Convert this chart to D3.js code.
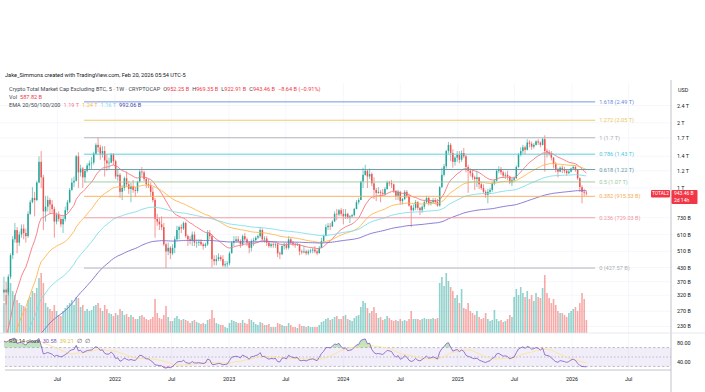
<!DOCTYPE html>
<html>
<head>
<meta charset="utf-8">
<script src="https://cdn.jsdelivr.net/npm/d3@7"></script>
<style>
  html, body { margin: 0; padding: 0; background: #fff; }
  svg { display: block; font-family: Roboto, "Liberation Sans", sans-serif; }
</style>
</head>
<body>
<div class="root"></div>
<script>
const width = 705;
const height = 392;

// TOTAL2 weekly candles (billions USD), first week starts Mon 2021-01-11
const weekStart = "2021-01-11";
const firstOpen = 330;
const closes = [
  // 2021
  340, 330, 390, 490, 580, 640, 560, 610, 650, 620, 600, 760, 860, 900, 880, 1060, 1320, 1120, 780, 820,
  880, 840, 800, 700, 750, 720, 680, 720, 790, 860, 980, 1060, 1080, 1400, 1180, 1230, 1120, 1200, 1270, 1300,
  1310, 1440, 1580, 1540, 1440, 1480, 1340, 1300, 1310, 1420, 1330,
  // 2022
  1130, 1150, 960, 1000, 1110, 1040, 990, 1020, 980, 970, 1070, 1190, 1180, 1100, 1040, 1030, 960, 880, 720, 700,
  680, 660, 550, 510, 530, 500, 530, 580, 640, 660, 650, 690, 600, 580, 570, 610, 560, 560, 565, 550,
  540, 550, 620, 600, 470, 460, 470, 480, 470, 440, 445, 450,
  // 2023
  500, 560, 570, 580, 570, 550, 600, 580, 560, 530, 570, 575, 590, 600, 640, 580, 585, 560, 540, 550,
  545, 550, 500, 495, 540, 545, 530, 580, 560, 550, 545, 550, 510, 505, 510, 500, 510, 515, 520, 510,
  500, 530, 570, 600, 660, 670, 665, 700, 760, 755, 790, 760,
  // 2024
  740, 760, 730, 740, 750, 800, 860, 880, 1070, 1150, 1200, 1130, 1160, 1050, 980, 950, 960, 950, 940, 990,
  1060, 1050, 1040, 970, 920, 960, 870, 890, 960, 920, 830, 790, 810, 860, 810, 790, 820, 860, 900, 850,
  860, 880, 860, 830, 1010, 1150, 1260, 1480, 1580, 1450, 1320, 1380, 1420,
  // 2025
  1350, 1450, 1400, 1250, 1200, 1170, 1120, 1100, 1120, 1040, 1000, 960, 930, 960, 980, 1050, 1080, 1200, 1220, 1180,
  1140, 1150, 1130, 1060, 1090, 1110, 1250, 1420, 1480, 1540, 1500, 1620, 1600, 1550, 1580, 1640, 1620, 1580, 1680, 1480,
  1460, 1440, 1380, 1290, 1220, 1190, 1240, 1220, 1200, 1170, 1190, 1230,
  // 2026
  1250, 1210, 1110, 1010, 960, 952.25, 943.46
];
const highs = [
  390, 370, 400, 500, 600, 690, 660, 630, 680, 680, 650, 780, 880, 1010, 960, 1080, 1400, 1480, 1150, 920,
  920, 900, 880, 820, 770, 780, 740, 740, 820, 880, 1000, 1110, 1130, 1420, 1460, 1280, 1250, 1220, 1300, 1340,
  1390, 1470, 1610, 1704.95, 1580, 1560, 1560, 1420, 1380, 1450, 1450,
  1350, 1230, 1170, 1030, 1130, 1190, 1080, 1060, 1090, 1010, 1080, 1210, 1250, 1200, 1120, 1100, 1060, 1010, 900, 760,
  730, 740, 690, 560, 560, 540, 550, 600, 670, 670, 680, 700, 700, 610, 600, 630, 630, 580, 580, 580,
  560, 560, 640, 640, 610, 490, 490, 500, 490, 490, 460, 460,
  510, 570, 600, 600, 600, 580, 610, 620, 590, 570, 580, 590, 600, 610, 660, 650, 600, 600, 570, 560,
  560, 560, 560, 510, 550, 560, 560, 600, 590, 570, 560, 560, 550, 520, 540, 520, 520, 525, 530, 540,
  520, 540, 590, 610, 680, 690, 690, 710, 780, 800, 800, 810,
  800, 800, 770, 750, 760, 810, 880, 900, 1080, 1240, 1280, 1210, 1230, 1180, 1120, 1000, 1010, 980, 990, 1010,
  1080, 1080, 1090, 1050, 980, 980, 970, 900, 980, 980, 930, 830, 840, 880, 870, 820, 830, 880, 920, 910,
  880, 900, 900, 890, 1020, 1240, 1290, 1500, 1630, 1610, 1510, 1400, 1480,
  1480, 1490, 1530, 1420, 1280, 1230, 1220, 1140, 1200, 1120, 1060, 1040, 980, 990, 1000, 1070, 1100, 1220, 1260, 1250,
  1200, 1180, 1200, 1140, 1110, 1130, 1270, 1450, 1540, 1580, 1570, 1680, 1660, 1640, 1610, 1660, 1680, 1640, 1700, 1750,
  1520, 1500, 1480, 1390, 1320, 1240, 1260, 1270, 1250, 1220, 1210, 1240,
  1280, 1270, 1220, 1120, 1030, 990, 969.35
];
const lows = [
  300, 290, 320, 380, 470, 560, 500, 540, 590, 580, 560, 590, 750, 850, 740, 870, 1050, 1000, 640, 700,
  780, 760, 770, 590, 680, 700, 660, 620, 700, 770, 850, 970, 1010, 1070, 1000, 1130, 1000, 1060, 1180, 1210,
  1220, 1280, 1430, 1460, 1350, 1380, 1130, 1200, 1220, 1300, 1280,
  1100, 1080, 900, 880, 970, 1010, 940, 860, 950, 910, 950, 1060, 1140, 1070, 1000, 1000, 920, 860, 590, 670,
  640, 640, 540, 427.57, 490, 470, 490, 500, 570, 580, 620, 640, 590, 540, 550, 540, 540, 530, 540, 540,
  520, 530, 540, 580, 430, 440, 440, 460, 460, 432, 430, 430,
  440, 500, 540, 560, 560, 530, 540, 570, 540, 500, 510, 540, 560, 580, 590, 570, 560, 540, 530, 530,
  530, 530, 480, 470, 490, 520, 520, 520, 550, 540, 530, 540, 490, 495, 500, 490, 490, 500, 500, 500,
  490, 500, 530, 560, 600, 640, 640, 660, 700, 710, 740, 740,
  680, 720, 720, 690, 730, 740, 800, 840, 880, 1000, 1140, 1000, 1100, 1020, 890, 870, 940, 860, 920, 920,
  980, 1020, 1000, 950, 880, 880, 840, 840, 880, 900, 820, 660, 780, 790, 790, 750, 770, 800, 850, 830,
  830, 850, 840, 820, 820, 1000, 1130, 1230, 1440, 1330, 1240, 1270, 1320,
  1300, 1320, 1370, 1180, 950, 1130, 1090, 980, 1010, 990, 980, 940, 900, 850, 940, 960, 1030, 1070, 1170, 1150,
  1110, 1100, 1090, 1040, 1020, 1070, 1100, 1240, 1400, 1440, 1430, 1490, 1540, 1500, 1520, 1570, 1580, 1540, 1570, 1190,
  1380, 1410, 1340, 1230, 1180, 1120, 1180, 1170, 1170, 1140, 1160, 1180,
  1220, 1190, 1090, 960, 850, 920, 922.91
];
const volumes = [
  1350, 1710, 2025, 2250, 1890, 1710, 1485, 1350, 1260, 1215, 1125, 1485, 1620, 1890, 1800, 2025, 2475, 2700, 2250, 1350,
  1170, 1080, 990, 1260, 990, 810, 765, 990, 1125, 1260, 1350, 1485, 1260, 1620, 1575, 1170, 1260, 990, 1080, 990,
  1035, 1215, 1260, 1350, 1125, 990, 1260, 1080, 900, 855, 765,
  900, 810, 1080, 990, 810, 855, 720, 810, 720, 630, 630, 765, 810, 720, 630, 585, 630, 720, 1530, 900,
  675, 630, 810, 1215, 720, 540, 540, 675, 765, 630, 585, 630, 585, 540, 450, 540, 585, 495, 450, 405,
  450, 405, 585, 630, 1035, 675, 450, 405, 360, 360, 270, 225,
  450, 585, 540, 495, 450, 450, 585, 450, 405, 630, 585, 495, 405, 360, 495, 450, 360, 360, 405, 270,
  270, 270, 450, 405, 360, 315, 315, 450, 360, 270, 270, 225, 405, 315, 315, 270, 315, 270, 270, 270,
  270, 360, 495, 540, 630, 675, 585, 630, 720, 765, 630, 630,
  765, 810, 630, 585, 540, 675, 765, 810, 1170, 1440, 1350, 1125, 900, 990, 1170, 900, 675, 720, 585, 630,
  765, 675, 585, 540, 585, 540, 630, 540, 585, 540, 630, 990, 630, 630, 630, 585, 630, 675, 630, 630,
  630, 675, 630, 675, 2250, 2520, 2115, 2700, 2340, 2070, 1890, 1575, 1710,
  1350, 1980, 1125, 1080, 1350, 990, 900, 810, 990, 720, 630, 675, 900, 630, 540, 585, 1035, 630, 540, 585,
  495, 540, 630, 810, 720, 1620, 1980, 1710, 2070, 1800, 1620, 1890, 1530, 1710, 1440, 1800, 1620, 1575, 2025, 2610,
  1800, 1575, 1350, 1530, 1260, 990, 900, 900, 810, 720, 900, 990,
  1080, 1170, 990, 1350, 1800, 1530, 587.82
];

// indicator seeds: values just before the first visible week
const emaLengths = [20, 50, 100, 200];
const emaSeeds = [180, 140, 125, 115];
const emaColors = ["#f4777f", "#ffb74d", "#80deea", "#7e6fd0"];
const rsiLength = 14;
const rsiSeedGain = 30;
const rsiSeedLoss = 6;

// axes
const priceTicks = [2400, 2000, 1700, 1400, 1200, 1000, 730, 610, 510, 430, 370, 320, 270, 230];
const priceTickLabels = ["2.4 T", "2 T", "1.7 T", "1.4 T", "1.2 T", "1 T", "730 B", "610 B", "510 B", "430 B", "370 B", "320 B", "270 B", "230 B"];
const timeTicks = ["2021-07-01", "2022-01-01", "2022-07-01", "2023-01-01", "2023-07-01", "2024-01-01", "2024-07-01", "2025-01-01", "2025-07-01", "2026-01-01", "2026-07-01"];
const timeTickLabels = ["Jul", "2022", "Jul", "2023", "Jul", "2024", "Jul", "2025", "Jul", "2026", "Jul"];
const rsiTicks = [80, 40];
const rsiBands = [70, 50, 30];

// fibonacci retracement drawing
const fibLow = 427.57;
const fibHigh = 1704.95;
const fibFrom = "2021-09-24";
const fibTo = "2026-03-16";
const fibLevels = [1.618, 1.272, 1, 0.786, 0.618, 0.5, 0.382, 0.236, 0];
const fibLabels = ["1.618 (2.49 T)", "1.272 (2.05 T)", "1 (1.7 T)", "0.786 (1.43 T)", "0.618 (1.22 T)", "0.5 (1.07 T)", "0.382 (915.53 B)", "0.236 (729.03 B)", "0 (427.57 B)"];
const fibColors = ["#6a8ae0", "#ebc55c", "#abaeb6", "#4ccada", "#5c9aa2", "#98c99a", "#f5ac55", "#f0959d", "#abaeb6"];

const parse = d3.utcParse("%Y-%m-%d");
const start = parse(weekStart);
const dates = closes.map((c, i) => d3.utcWeek.offset(start, i));
const opens = closes.map((c, i) => (i === 0 ? firstOpen : closes[i - 1]));

const svg = d3
  .select("div.root")
  .append("svg")
  .attr("width", width)
  .attr("height", height);

const axisX = 671;
const paneTop = 83;
const paneBottom = 333;
const rsiBottom = 369;

const x = d3
  .scaleUtc()
  .domain([parse("2022-01-01"), parse("2026-01-01")])
  .range([115, 572]);
const y = d3.scaleLog().domain([214.6, 3048]).range([paneBottom, paneTop]);
const yVol = d3.scaleLinear().domain([0, d3.max(volumes)]).range([paneBottom, paneBottom - 60]);
const yRsi = d3.scaleLinear().domain([24.5, 101]).range([rsiBottom, paneBottom]);

svg.append("defs").append("clipPath").attr("id", "main")
  .append("rect").attr("x", 0).attr("y", paneTop).attr("width", axisX).attr("height", paneBottom - paneTop);
svg.select("defs").append("clipPath").attr("id", "rsi")
  .append("rect").attr("x", 0).attr("y", paneBottom).attr("width", axisX).attr("height", rsiBottom - paneBottom);

// grid
const grid = svg.append("g").attr("stroke", "#f0f3fa").attr("stroke-width", 0.7);
grid.selectAll("line.h").data(priceTicks).enter().append("line")
  .attr("x1", 0).attr("x2", axisX).attr("y1", d => y(d)).attr("y2", d => y(d));
grid.selectAll("line.v").data(timeTicks).enter().append("line")
  .attr("x1", d => x(parse(d))).attr("x2", d => x(parse(d)))
  .attr("y1", paneTop).attr("y2", rsiBottom);

const main = svg.append("g").attr("clip-path", "url(#main)");

// volume
const up = i => closes[i] >= opens[i];
main.append("g").selectAll("rect").data(volumes).enter().append("rect")
  .attr("x", (d, i) => x(dates[i]) - 0.8)
  .attr("width", 1.6)
  .attr("y", d => yVol(d))
  .attr("height", d => paneBottom - yVol(d))
  .attr("fill", (d, i) => (up(i) ? "rgba(38,166,154,0.5)" : "rgba(239,83,80,0.5)"));

// fibonacci
const fibPrice = l => fibLow + l * (fibHigh - fibLow);
const fib = svg.append("g");
fib.selectAll("line").data(fibLevels).enter().append("line")
  .attr("x1", x(parse(fibFrom))).attr("x2", x(parse(fibTo)))
  .attr("y1", d => y(fibPrice(d))).attr("y2", d => y(fibPrice(d)))
  .attr("stroke", (d, i) => fibColors[i]).attr("stroke-width", 0.9);
fib.selectAll("text").data(fibLevels).enter().append("text")
  .attr("x", x(parse(fibTo)) + 4).attr("y", d => y(fibPrice(d)) + 2)
  .attr("font-size", 5.6).attr("fill", (d, i) => fibColors[i])
  .text((d, i) => fibLabels[i]);

// candles
const candles = main.append("g");
candles.selectAll("line").data(closes).enter().append("line")
  .attr("x1", (d, i) => x(dates[i])).attr("x2", (d, i) => x(dates[i]))
  .attr("y1", (d, i) => y(highs[i])).attr("y2", (d, i) => y(lows[i]))
  .attr("stroke", (d, i) => (up(i) ? "#26a69a" : "#ef5350")).attr("stroke-width", 0.6);
candles.selectAll("rect").data(closes).enter().append("rect")
  .attr("x", (d, i) => x(dates[i]) - 0.75).attr("width", 1.5)
  .attr("y", (d, i) => y(Math.max(d, opens[i])))
  .attr("height", (d, i) => Math.max(0.6, Math.abs(y(d) - y(opens[i]))))
  .attr("fill", (d, i) => (up(i) ? "#26a69a" : "#ef5350"));

// EMAs
const emaSeries = emaLengths.map((len, k) => {
  const a = 2 / (len + 1);
  let e = emaSeeds[k];
  return closes.map(c => (e = e + a * (c - e)));
});
const line = d3.line().x((d, i) => x(dates[i])).y(d => y(d));
main.append("g").selectAll("path").data(emaSeries).enter().append("path")
  .attr("d", line).attr("fill", "none")
  .attr("stroke", (d, k) => emaColors[k]).attr("stroke-width", 0.9);

// RSI
let ag = rsiSeedGain;
let al = rsiSeedLoss;
const rsi = closes.map((c, i) => {
  const ch = c - opens[i];
  ag = (ag * (rsiLength - 1) + Math.max(ch, 0)) / rsiLength;
  al = (al * (rsiLength - 1) + Math.max(-ch, 0)) / rsiLength;
  return 100 - 100 / (1 + ag / al);
});
const rsiMa = rsi.map((v, i) => d3.mean(rsi.slice(Math.max(0, i - 13), i + 1)));

const rp = svg.append("g").attr("clip-path", "url(#rsi)");
rp.append("rect").attr("x", 5).attr("width", axisX - 5)
  .attr("y", yRsi(70)).attr("height", yRsi(30) - yRsi(70))
  .attr("fill", "rgba(126,87,194,0.1)");
rp.selectAll("line.band").data(rsiBands).enter().append("line")
  .attr("x1", 5).attr("x2", axisX).attr("y1", d => yRsi(d)).attr("y2", d => yRsi(d))
  .attr("stroke", "#9598a1").attr("stroke-width", 0.6)
  .attr("stroke-dasharray", d => (d === 50 ? "1.5,2" : "2.5,2"));
rp.append("path").datum(rsi)
  .attr("d", d3.area().x((d, i) => x(dates[i])).y0(yRsi(70)).y1(d => yRsi(Math.max(d, 70))))
  .attr("fill", "rgba(76,175,80,0.35)");
rp.append("path").datum(rsi)
  .attr("d", d3.area().x((d, i) => x(dates[i])).y0(yRsi(30)).y1(d => yRsi(Math.min(d, 30))))
  .attr("fill", "rgba(242,54,69,0.3)");
rp.append("path").datum(rsiMa)
  .attr("d", d3.line().x((d, i) => x(dates[i])).y(d => yRsi(d)))
  .attr("fill", "none").attr("stroke", "#fbe38a").attr("stroke-width", 0.8);
rp.append("path").datum(rsi)
  .attr("d", d3.line().x((d, i) => x(dates[i])).y(d => yRsi(d)))
  .attr("fill", "none").attr("stroke", "#7e57c2").attr("stroke-width", 0.8);

// frame lines
svg.append("line").attr("x1", axisX).attr("x2", axisX).attr("y1", paneTop - 3).attr("y2", height)
  .attr("stroke", "#b2b5be").attr("stroke-width", 0.8);
svg.append("line").attr("x1", 0).attr("x2", width).attr("y1", paneBottom).attr("y2", paneBottom)
  .attr("stroke", "#e0e3eb").attr("stroke-width", 0.8);
svg.append("line").attr("x1", 5).attr("x2", axisX).attr("y1", rsiBottom + 1).attr("y2", rsiBottom + 1)
  .attr("stroke", "#b2b5be").attr("stroke-width", 0.8);

// price axis
const axisText = svg.append("g").attr("font-size", 5.4).attr("fill", "#131722");
axisText.append("text").attr("x", 678).attr("y", 92).text("USD");
axisText.selectAll("text.p").data(priceTicks).enter().append("text")
  .attr("x", 677).attr("y", d => y(d) + 2).text((d, i) => priceTickLabels[i]);
axisText.selectAll("text.r").data(rsiTicks).enter().append("text")
  .attr("x", 677).attr("y", d => yRsi(d) + 2).text(d => d.toFixed(2));
axisText.selectAll("text.t").data(timeTicks).enter().append("text")
  .attr("x", d => x(parse(d))).attr("y", 380.5).attr("text-anchor", "middle")
  .text((d, i) => timeTickLabels[i]);

// last price label
const last = closes.length - 1;
const ly = y(closes[last]);
svg.append("rect").attr("x", 651).attr("y", ly - 3.5).attr("width", 19).attr("height", 7.5).attr("fill", "#f23645").attr("rx", 1);
svg.append("text").attr("x", 660.5).attr("y", ly + 1.8).attr("text-anchor", "middle")
  .attr("font-size", 4.8).attr("fill", "#fff").text("TOTAL2");
svg.append("rect").attr("x", 671.5).attr("y", ly - 3.5).attr("width", 26).attr("height", 14).attr("fill", "#f23645").attr("rx", 1);
svg.append("text").attr("x", 674).attr("y", ly + 1.8).attr("font-size", 5).attr("fill", "#fff").text("943.46 B");
svg.append("text").attr("x", 674).attr("y", ly + 8.2).attr("font-size", 5).attr("fill", "#fff").text("2d 14h");

// legend
const legend = svg.append("g").attr("font-size", 5.6).attr("fill", "#434651");
legend.append("text").attr("x", 5).attr("y", 77).attr("fill", "#131722")
  .text("Jake_Simmons created with TradingView.com, Feb 20, 2026 05:54 UTC-5");

const red = "#f23645";
const l1 = legend.append("text").attr("x", 9).attr("y", 91);
l1.append("tspan").text("Crypto Total Market Cap Excluding BTC, 5 · 1W · CRYPTOCAP");
[["O", "952.25 B"], ["H", "969.35 B"], ["L", "922.91 B"], ["C", "943.46 B"]].forEach(([k, v]) => {
  l1.append("tspan").attr("dx", 3).text(k);
  l1.append("tspan").attr("fill", red).text(v);
});
l1.append("tspan").attr("dx", 3).attr("fill", red).text("−8.64 B (−0.91%)");

const l2 = legend.append("text").attr("x", 9).attr("y", 99);
l2.append("tspan").text("Vol");
l2.append("tspan").attr("dx", 3).attr("fill", red).text("587.82 B");

const emaLegend = ["1.19 T", "1.24 T", "1.16 T", "992.06 B"];
const l3 = legend.append("text").attr("x", 9).attr("y", 107);
l3.append("tspan").text("EMA 20/50/100/200");
emaLegend.forEach((v, k) => {
  l3.append("tspan").attr("dx", 3).attr("fill", k === 3 ? "#3f3fa0" : emaColors[k]).text(v);
});

const l4 = legend.append("text").attr("x", 9).attr("y", 343);
l4.append("tspan").text("RSI 14 close");
l4.append("tspan").attr("dx", 3).attr("fill", "#7e57c2").text("30.58");
l4.append("tspan").attr("dx", 3).attr("fill", "#e0c040").text("39.21");
l4.append("tspan").attr("dx", 3).text("∅");
l4.append("tspan").attr("dx", 3).text("∅");
</script>
</body>
</html>
